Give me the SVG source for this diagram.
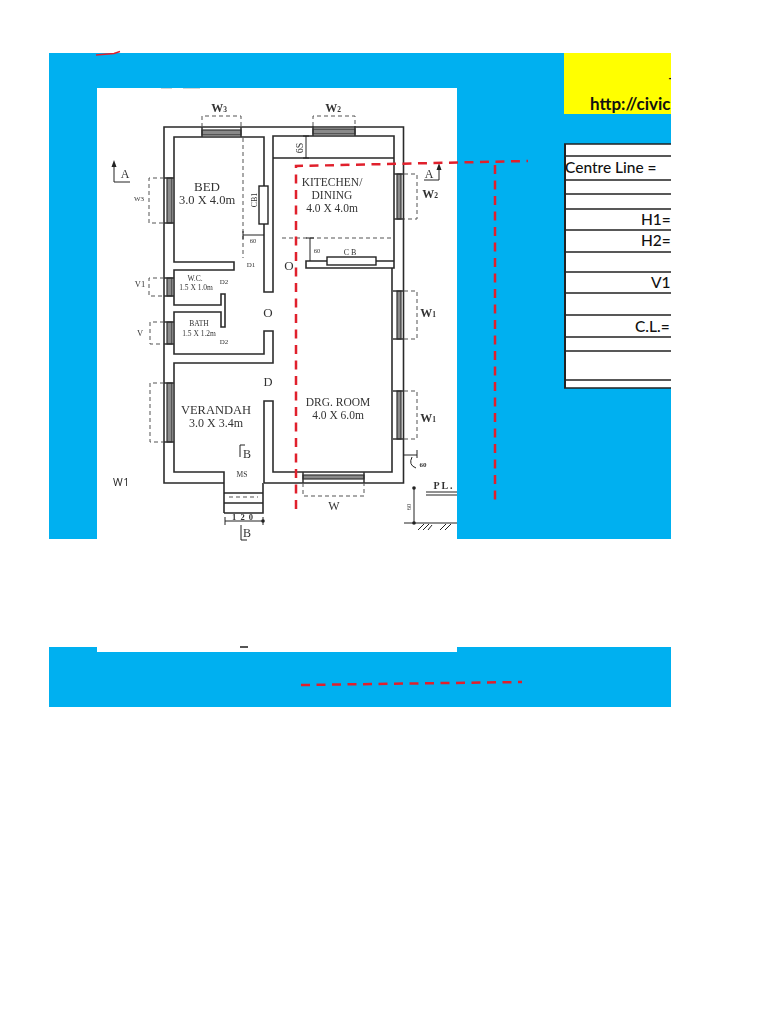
<svg xmlns="http://www.w3.org/2000/svg" width="768" height="1024" viewBox="0 0 768 1024">
<style>
.w{fill:none;stroke:#2a2a2a;stroke-width:1.6}
.win{fill:none;stroke:#333;stroke-width:1.5}
.wf{fill:#8a8a8a;stroke:#333;stroke-width:1.2}
.d{fill:none;stroke:#555;stroke-width:1;stroke-dasharray:4 3}
.t{fill:none;stroke:#222;stroke-width:1}
.r{fill:none;stroke:#e0202c;stroke-width:2.500;stroke-dasharray:9 6.5}
.s{font-family:"Liberation Serif",serif;fill:#333;text-anchor:middle}
.b{font-weight:bold}
.x{font-family:Lato,"Open Sans",sans-serif;font-size:15.500px;fill:#111;font-weight:500}
.u{font-size:17px;font-weight:bold}
</style>
<defs>
<filter id="soft" x="-2%" y="-2%" width="104%" height="104%"><feGaussianBlur stdDeviation="0.4"/></filter>
<clipPath id="c"><rect x="564" y="53" width="107" height="340"/></clipPath>
<clipPath id="p"><rect x="97" y="88" width="360" height="564"/></clipPath>
</defs>
<rect width="768" height="1024" fill="#fff"/>
<g id="background">
<rect x="49" y="53" width="622" height="486" fill="#00b0f0"/>
<rect x="49" y="647" width="622" height="60" fill="#00b0f0"/>
<rect x="97" y="88" width="360" height="564" fill="#fff"/>
</g>
<g id="plan" clip-path="url(#p)" filter="url(#soft)">
<g id="walls">
<path class="w" d="M224 483H164V127H403.500V483H264"/>
<path class="w" d="M224 513V472H174V363H273V331H264V354H174V312H221V327H225V294H221V305H174V270H234V262H174V137H264V292H273V136H394V268H306V261H394"/>
<path class="w" d="M273 158H394M264 483V401H273V472H392V268"/>
<path class="w" d="M224 513H263V483"/>
<path class="w" d="M224 493H263M224 503H263"/>
</g>
<g id="windows">
<rect class="wf" x="202" y="130" width="39" height="5"/><path class="win" d="M202 127V137M241 127V137"/>
<rect class="wf" x="313" y="129" width="42" height="5"/><path class="win" d="M313 126V136M355 126V136"/>
<rect class="wf" x="167" y="178" width="5" height="45"/><path class="win" d="M164 178H174M164 223H174"/>
<rect class="wf" x="167" y="278" width="5" height="18"/><path class="win" d="M164 278H174M164 296H174"/>
<rect class="wf" x="167" y="322" width="5" height="22"/><path class="win" d="M164 322H174M164 344H174"/>
<rect class="wf" x="167" y="383" width="5" height="59"/><path class="win" d="M164 383H174M164 442H174"/>
<rect class="wf" x="397" y="174" width="4" height="45"/><path class="win" d="M394 174H404M394 219H404"/>
<rect class="wf" x="397" y="291" width="4" height="48"/><path class="win" d="M393 291H404M393 339H404"/>
<rect class="wf" x="397" y="391" width="4" height="48"/><path class="win" d="M393 391H404M393 439H404"/>
<rect class="wf" x="303" y="475" width="61" height="4"/><path class="win" d="M303 472V483M364 472V483"/>
<rect x="259" y="186" width="9" height="38" fill="#fff" stroke="#222" stroke-width="1.4"/>
<rect x="327" y="257" width="49" height="8" fill="#fff" stroke="#222" stroke-width="1.4"/>
</g>
<g id="dims">
<path class="d" d="M202 127V116H241V127M313 126V116H355V126"/>
<path class="d" d="M164 178H149V223H164M164 278H149V296H164M164 322H150V344H164M164 383H150V442H164"/>
<path class="d" d="M404 174H417V219H404M404 291H417V339H404M404 391H417V439H404M303 483V496H364V483"/>
<path class="d" d="M243 138V258M282 238H393M229 497H258"/>
<path class="t" d="M243 235H264M243 231V239M310 238V261M306 238H314M306 136V158M303 136H309M303 158H309"/>
<path class="t" d="M114 165V182H130M439 180H424M439 168V180M225 521H263M225 517V525M263 517V525"/>
<path class="t" d="M414 488V523M404 523H457M426 492H457M426 495H457M403 455H417"/>
<path class="t" d="M417 450V458M412 457Q408 465 416 468"/>
<path class="t" d="M240 457V445H245M241 525V540H247"/>
<path class="t" d="M418 530L424 524M423 530L429 524M428 530L432 525M440 530L446 524M445 530L451 524"/>
<path d="M114 160L111.500 167H116.500ZM439 163L436.500 170H441.500Z" fill="#222"/>
<circle cx="414" cy="488" r="1.800" fill="#222"/><circle cx="414" cy="523" r="1.800" fill="#222"/><circle cx="263" cy="521" r="1.800" fill="#222"/>
<path d="M161 88H172M183 88H200" fill="none" stroke="#aaa" stroke-width="1"/>
</g>
<g id="labels">
<text class="s" x="207" y="191" font-size="13">BED</text>
<text class="s" x="207" y="204" font-size="12.500">3.0 X 4.0m</text>
<text class="s" x="332" y="186" font-size="11.500">KITECHEN/</text>
<text class="s" x="332" y="199" font-size="11.500">DINING</text>
<text class="s" x="332" y="212" font-size="11.500">4.0 X 4.0m</text>
<text class="s" x="338" y="406" font-size="11.500">DRG. ROOM</text>
<text class="s" x="338" y="419" font-size="11.500">4.0 X 6.0m</text>
<text class="s" x="216" y="414" font-size="12.500">VERANDAH</text>
<text class="s" x="216" y="427" font-size="12">3.0 X 3.4m</text>
<text class="s" x="195" y="281" font-size="7.500">W.C.</text>
<text class="s" x="196" y="290" font-size="7.500">1.5 X 1.0m</text>
<text class="s" x="199" y="326" font-size="7.500">BATH</text>
<text class="s" x="199" y="336" font-size="7.500">1.5 X 1.2m</text>
<text class="s" x="224" y="284" font-size="7">D2</text>
<text class="s" x="224" y="344" font-size="7">D2</text>
<text class="s" x="251" y="267" font-size="7">D1</text>
<text class="s" x="268" y="317" font-size="13">O</text>
<text class="s" x="289" y="270" font-size="13">O</text>
<text class="s" x="268" y="386" font-size="12.500">D</text>
<text class="s" x="242" y="477" font-size="7.500">MS</text>
<text class="s" x="247" y="458" font-size="12">B</text>
<text class="s" x="247" y="537" font-size="12">B</text>
<text class="s b" x="219" y="112" font-size="12">W<tspan font-size="7.500">3</tspan></text>
<text class="s b" x="333" y="112" font-size="12">W<tspan font-size="7.500">2</tspan></text>
<text class="s b" x="430" y="198" font-size="12">W<tspan font-size="7.500">2</tspan></text>
<text class="s b" x="428" y="317" font-size="12">W<tspan font-size="7.500">1</tspan></text>
<text class="s b" x="428" y="422" font-size="12">W<tspan font-size="7.500">1</tspan></text>
<text class="s" x="334" y="510" font-size="12">W</text>
<text class="s" x="139" y="201" font-size="7">W3</text>
<text class="s" x="140" y="287" font-size="8.500">V1</text>
<text class="s" x="140" y="336" font-size="8.500">V</text>
<text class="s" x="125" y="178" font-size="12">A</text>
<text class="s" x="429" y="178" font-size="12">A</text>
<text class="s" x="350" y="255" font-size="8">C B</text>
<text class="s" x="253" y="243" font-size="6.500">60</text>
<text class="s" x="317" y="253" font-size="6.500">60</text>
<text class="s b" x="243" y="520" font-size="8.500" letter-spacing="1">1 2 0</text>
<text class="s b" x="423" y="467" font-size="7">60</text>
<text class="s b" x="443" y="489" font-size="10">P L .</text>
<text class="s" transform="rotate(-90 257 200)" x="257" y="200" font-size="8">CB1</text>
<text class="s" transform="rotate(-90 303 148)" x="303" y="148" font-size="10">6S</text>
<text class="s" transform="rotate(-90 411 507)" x="411" y="507" font-size="6.500">60</text>
<rect x="240" y="646" width="8" height="2" fill="#555"/>
</g>
</g>
<text id="w1" x="113" y="486" font-family="Open Sans,sans-serif" font-size="10.500" letter-spacing="0.5" fill="#222">W1</text>
<g id="red-lines">
<path class="r" d="M296 509V166L528 161"/>
<path class="r" d="M495 165V505"/>
<path class="r" d="M301 685L522 682"/>
<path d="M96 55L114 53.500L120 51.500" fill="none" stroke="#e0202c" stroke-width="1.500"/>
</g>
<g id="sheet" clip-path="url(#c)">
<rect x="564" y="53" width="107" height="61" fill="#ffff00"/>
<rect x="564" y="144" width="107" height="244" fill="#fff"/>
<path d="M564 144H671M564 156H671M564 180H671M564 194H671M564 209H671M564 230H671M564 252H671M564 272H671M564 293H671M564 315H671M564 337H671M564 351H671M564 380H671M564 388H671" fill="none" stroke="#222" stroke-width="1.300"/>
<path d="M565 144V388" fill="none" stroke="#222" stroke-width="2"/>
<text class="x u" x="590" y="110">http://civic</text>
<text class="x" x="668" y="83">-</text>
<text class="x" x="565" y="173">Centre Line =</text>
<text class="x" x="641" y="225">H1=</text>
<text class="x" x="641" y="246">H2=</text>
<text class="x" x="651" y="288">V1</text>
<text class="x" x="635" y="332">C.L.=</text>
</g>
</svg>
